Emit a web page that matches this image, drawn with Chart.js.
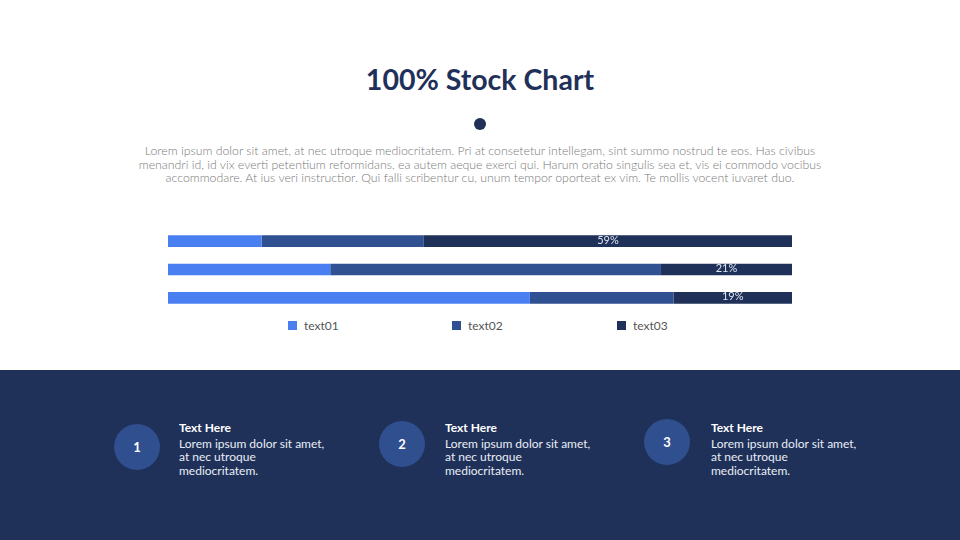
<!DOCTYPE html>
<html>
<head>
<meta charset="utf-8">
<script src="https://cdn.jsdelivr.net/npm/chart.js@4.4.0/dist/chart.umd.min.js"></script>
<style>
  body { margin: 0; width: 960px; height: 540px; overflow: hidden; background: #fff; font-family: "Lato", sans-serif; position: relative; }
  .title { position: absolute; top: 62px; left: 0; width: 960px; text-align: center; font-size: 28.5px; font-weight: 700; color: #1f3159; }
  .dot { position: absolute; left: 474px; top: 118px; width: 12px; height: 12px; border-radius: 50%; background: #1f3159; }
  .intro { position: absolute; top: 144px; left: 0; width: 960px; text-align: center; font-size: 12.3px; line-height: 13.5px; color: #7a7a7a; font-weight: 300; }
  #chartBox { position: absolute; left: 168px; top: 227px; width: 624px; height: 85px; }
  .legend-item { position: absolute; top: 318px; font-size: 12px; color: #555; display: flex; align-items: center; }
  .legend-item span.box { width: 9px; height: 9px; margin-right: 7px; }
  .panel { position: absolute; left: 0; top: 370px; width: 960px; height: 170px; background: #1f3159; }
  .circle { position: absolute; width: 46px; height: 46px; border-radius: 50%; background: #2f4f8f; color: #fff; font-size: 13px; font-weight: 700; text-align: center; line-height: 46px; }
  .item { position: absolute; color: #e9edf5; font-size: 12px; line-height: 13.5px; }
  .item b { display: block; color: #fff; font-size: 12px; margin-bottom: 2px; }
</style>
</head>
<body>
<div class="title">100% Stock Chart</div>
<div class="dot"></div>
<div class="intro">Lorem ipsum dolor sit amet, at nec utroque mediocritatem. Pri at consetetur intellegam, sint summo nostrud te eos. Has civibus<br>menandri id, id vix everti petentium reformidans, ea autem aeque exerci qui. Harum oratio singulis sea et, vis ei commodo vocibus<br>accommodare. At ius veri instructior. Qui falli scribentur cu, unum tempor oporteat ex vim. Te mollis vocent iuvaret duo.</div>

<div id="chartBox"><canvas id="chart"></canvas></div>
<div id="legend"></div>

<div class="panel">
  <div class="circle" style="left:114px; top:54px;">1</div>
  <div class="item" style="left:179px; top:51px;"><b>Text Here</b>Lorem ipsum dolor sit amet,<br>at nec utroque<br>mediocritatem.</div>
  <div class="circle" style="left:379px; top:51px;">2</div>
  <div class="item" style="left:445px; top:51px;"><b>Text Here</b>Lorem ipsum dolor sit amet,<br>at nec utroque<br>mediocritatem.</div>
  <div class="circle" style="left:644px; top:49px;">3</div>
  <div class="item" style="left:711px; top:51px;"><b>Text Here</b>Lorem ipsum dolor sit amet,<br>at nec utroque<br>mediocritatem.</div>
</div>

<script>
// data
const categories = ["A", "B", "C"];
const seriesNames = ["text01", "text02", "text03"];
const text01 = [15, 26, 58];
const text02 = [26, 53, 23];
const text03 = [59, 21, 19];
const colors = ["#4a7ff2", "#2f5192", "#1f3159"];

// labels only on the last series
const segmentLabels = {
  id: "segmentLabels",
  afterDatasetsDraw(chart) {
    const ctx = chart.ctx;
    const meta = chart.getDatasetMeta(2);
    ctx.save();
    ctx.font = "11px Lato, sans-serif";
    ctx.fillStyle = "#dfe5f2";
    ctx.textAlign = "center";
    ctx.textBaseline = "middle";
    meta.data.forEach((bar, i) => {
      const x = (bar.x + bar.base) / 2;
      ctx.fillText(text03[i] + "%", x, bar.y - 1);
    });
    ctx.restore();
  },
};

const chart = new Chart(document.getElementById("chart"), {
  type: "bar",
  data: {
    labels: categories,
    datasets: [
      { label: seriesNames[0], data: text01, backgroundColor: colors[0] },
      { label: seriesNames[1], data: text02, backgroundColor: colors[1] },
      { label: seriesNames[2], data: text03, backgroundColor: colors[2] },
    ],
  },
  options: {
    indexAxis: "y",
    responsive: true,
    maintainAspectRatio: false,
    animation: false,
    layout: { padding: 0 },
    datasets: { bar: { barPercentage: 0.41, categoryPercentage: 1, borderWidth: 0 } },
    scales: {
      x: { stacked: true, min: 0, max: 100, display: false },
      y: { stacked: true, display: false },
    },
    plugins: { legend: { display: false }, tooltip: { enabled: false } },
  },
  plugins: [segmentLabels],
});

// legend built from datasets
const legendLefts = [288, 452, 617];
document.getElementById("legend").innerHTML = chart.data.datasets
  .map((ds, i) => {
    return `<div class="legend-item" style="left:${legendLefts[i]}px">
        <span class="box" style="background:${ds.backgroundColor}"></span>${ds.label}</div>`;
  })
  .join("");
</script>
</body>
</html>
